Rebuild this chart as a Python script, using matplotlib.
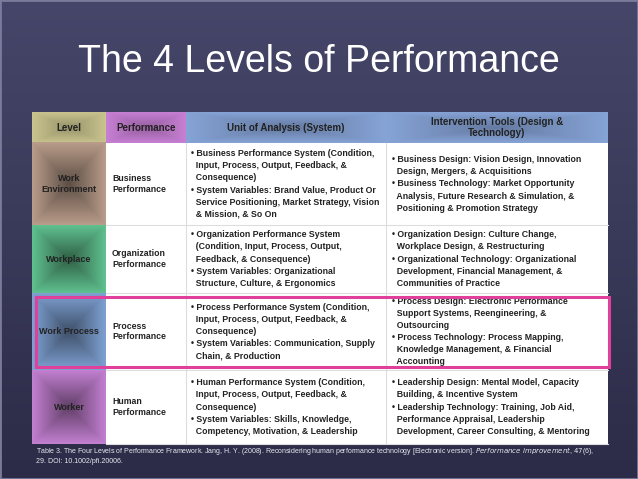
import numpy as np
import matplotlib.pyplot as plt
from matplotlib.patches import Rectangle
from matplotlib.colors import to_rgb

plt.rcParams['font.family'] = ['Liberation Sans', 'DejaVu Sans']

title = "The 4 Levels of Performance"
headers = ["Level", "Performance", "Unit of Analysis (System)",
           "Intervention Tools (Design &\nTechnology)"]
levels = ["Work\nEnvironment", "Workplace", "Work Process", "Worker"]
performance = ["Business\nPerformance", "Organization\nPerformance",
               "Process\nPerformance", "Human\nPerformance"]
units = [
    "• Business Performance System (Condition,\n  Input, Process, Output, Feedback, &\n  Consequence)\n"
    "• System Variables: Brand Value, Product Or\n  Service Positioning, Market Strategy, Vision\n  & Mission, & So On",
    "• Organization Performance System\n  (Condition, Input, Process, Output,\n  Feedback, & Consequence)\n"
    "• System Variables: Organizational\n  Structure, Culture, & Ergonomics",
    "• Process Performance System (Condition,\n  Input, Process, Output, Feedback, &\n  Consequence)\n"
    "• System Variables: Communication, Supply\n  Chain, & Production",
    "• Human Performance System (Condition,\n  Input, Process, Output, Feedback, &\n  Consequence)\n"
    "• System Variables: Skills, Knowledge,\n  Competency, Motivation, & Leadership",
]
tools = [
    "• Business Design: Vision Design, Innovation\n  Design, Mergers, & Acquisitions\n"
    "• Business Technology: Market Opportunity\n  Analysis, Future Research & Simulation, &\n  Positioning & Promotion Strategy",
    "• Organization Design: Culture Change,\n  Workplace Design, & Restructuring\n"
    "• Organizational Technology: Organizational\n  Development, Financial Management, &\n  Communities of Practice",
    "• Process Design: Electronic Performance\n  Support Systems, Reengineering, &\n  Outsourcing\n"
    "• Process Technology: Process Mapping,\n  Knowledge Management, & Financial\n  Accounting",
    "• Leadership Design: Mental Model, Capacity\n  Building, & Incentive System\n"
    "• Leadership Technology: Training, Job Aid,\n  Performance Appraisal, Leadership\n  Development, Career Consulting, & Mentoring",
]
caption = ("Table 3. The Four Levels of Performance Framework. Jang, H. Y. (2008). Reconsidering human performance "
           "technology [Electronic version]. $\\it{Performance\\ improvement}$, $\\it{47}$(6),\n29. DOI: 10.1002/pfi.20006.")

header_colors = ["#c9c48e", "#c77fd4", "#86a3d6", "#86a3d6"]
level_colors = ["#b99c8a", "#5fc08e", "#7ea0d2", "#c27fd0"]

col_x = [32, 106, 186, 386, 608]
row_y = [112, 143, 225, 293, 370, 444]

fig = plt.figure(figsize=(6.38, 4.79), dpi=100)
ax = fig.add_axes([0, 0, 1, 1])
ax.set_xlim(0, 638)
ax.set_ylim(479, 0)
ax.axis('off')

# background gradient
g = np.linspace(0, 1, 200)[:, None]
top, bot = np.array(to_rgb("#46466a")), np.array(to_rgb("#2c2c48"))
bg = top * (1 - g[..., None]) + bot * g[..., None]
bg = np.repeat(bg, 2, axis=1)
ax.imshow(bg, extent=[0, 638, 479, 0], aspect='auto', zorder=0)
ax.add_patch(Rectangle((0, 0), 638, 479, fill=False, ec="#7a7a9a", lw=2, zorder=1))


def radial(x0, x1, y0, y1, color, strength=0.45):
    yy, xx = np.mgrid[-1:1:60j, -1:1:60j]
    r = np.clip(np.maximum(np.abs(xx), np.abs(yy)), 0, 1)
    c = np.array(to_rgb(color))
    dark = c * (1 - strength)
    img = dark * (1 - r[..., None]) + c * r[..., None]
    ax.imshow(img, extent=[x0, x1, y1, y0], aspect='auto', zorder=2, interpolation='bilinear')


# table body
ax.add_patch(Rectangle((col_x[1], row_y[1]), col_x[-1] - col_x[1], row_y[-1] - row_y[1],
                       fc="white", ec="none", zorder=1.5))
for j, h in enumerate(headers):
    radial(col_x[j], col_x[j + 1], row_y[0], row_y[1], header_colors[j], 0.25)
    ax.text((col_x[j] + col_x[j + 1]) / 2, (row_y[0] + row_y[1]) / 2, h, ha='center', va='center',
            fontsize=7, fontweight='bold', color="#222222", zorder=4, linespacing=1.1)
for i in range(4):
    y0, y1 = row_y[i + 1], row_y[i + 2]
    yc = (y0 + y1) / 2
    radial(col_x[0], col_x[1], y0, y1, level_colors[i], 0.5)
    ax.text((col_x[0] + col_x[1]) / 2, yc, levels[i], ha='center', va='center',
            fontsize=6.5, fontweight='bold', color="#222222", zorder=4)
    ax.text(col_x[1] + 6, yc, performance[i], ha='left', va='center',
            fontsize=6.3, fontweight='bold', color="#222222", zorder=4)
    ax.text(col_x[2] + 5, yc, units[i], ha='left', va='center', fontsize=6.3,
            fontweight='bold', color="#222222", zorder=4, linespacing=1.45)
    ax.text(col_x[3] + 6, yc, tools[i], ha='left', va='center', fontsize=6.3,
            fontweight='bold', color="#222222", zorder=4, linespacing=1.45)
    ax.plot([col_x[1], col_x[-1]], [y1, y1], color="#dddddd", lw=0.8, zorder=3)
for x in col_x[2:4]:
    ax.plot([x, x], [row_y[1], row_y[-1]], color="#dddddd", lw=0.8, zorder=3)

# highlight box
ax.add_patch(Rectangle((36, 297), 573, 70, fill=False, ec="#e0409a", lw=2.2, zorder=5))

ax.text(319, 62, title, ha='center', va='center', fontsize=27, color="white", zorder=4)
ax.text(36, 455, caption, ha='left', va='center', fontsize=5, color="#e8e8f0", zorder=4, linespacing=1.3)

fig.savefig("out.png", dpi=100)
